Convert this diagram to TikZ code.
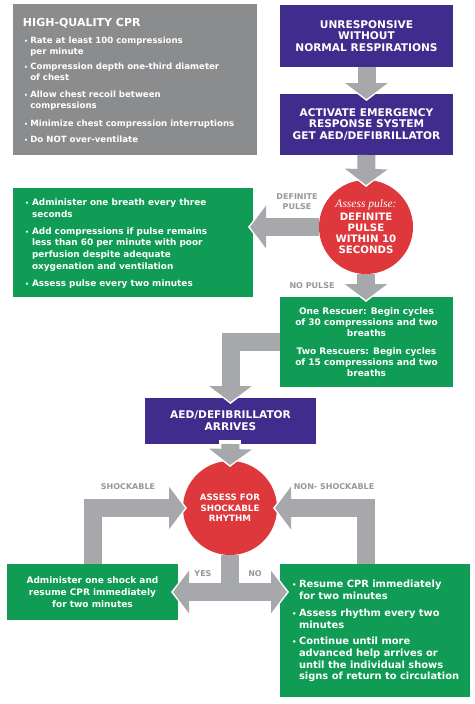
\documentclass[tikz,border=0pt]{standalone}
\usepackage{fontspec}
\setmainfont{DejaVu Sans}
\newfontfamily\serifit{Liberation Serif}
\usetikzlibrary{arrows.meta,calc}
\definecolor{boxgray}{RGB}{139,140,142}
\definecolor{arrgray}{RGB}{166,168,171}
\definecolor{labgray}{RGB}{150,152,155}
\definecolor{cprpurple}{RGB}{64,44,140}
\definecolor{cprgreen}{RGB}{16,156,84}
\definecolor{cprred}{RGB}{222,56,60}
\newcommand\bul{\makebox[7pt][l]{\scalebox{0.7}{•}}}
\newcommand\ind{\hspace*{7pt}}
\newcommand\bulg{\makebox[6.3pt][l]{\scalebox{0.7}{•}}}
\newcommand\indg{\hspace*{6.3pt}}
\newcommand\assessfont{\serifit\itshape\fontsize{11.5}{12}\selectfont}
\newcommand\circfont{\fontspec{DejaVu Sans Bold}\fontsize{10.2}{11}\selectfont}
\begin{document}
\begin{tikzpicture}[x=1pt,y=-1pt,
  every node/.style={inner sep=0pt, outer sep=0pt},
  rbox/.style={rectangle, draw=none},
  graybox/.style={rbox, fill=boxgray},
  purplebox/.style={rbox, fill=cprpurple, text=white, align=center,
    font=\bfseries\fontsize{10.6}{11.8}\selectfont},
  greenbox/.style={rbox, fill=cprgreen},
  redcircle/.style={circle, fill=cprred, minimum size=94pt, text=white, align=center},
  wtext/.style={text=white, align=left},
  ctext/.style={text=white, align=center},
  lbl/.style={text=labgray, align=center, font=\bfseries\fontsize{8}{10}\selectfont},
  fat/.style={draw=arrgray, line width=18pt, line join=miter},
  halo/.style={draw=white, line width=22pt, -{Triangle[width=48pt,length=19pt]}},
  >={Triangle[width=42pt,length=16pt]}
]
\useasboundingbox (0,0) rectangle (474,704);
\fill[white] (0,0) rectangle (474,704);

% ---------- boxes ----------
\node[graybox, minimum width=244pt, minimum height=151pt] (g0) at (135,79.5) {};
\node[wtext, anchor=north west, font=\bfseries\fontsize{11}{12}\selectfont] (g0h) at (23,18.5) {HIGH-QUALITY CPR};
\node[wtext, anchor=north west, font=\bfseries\fontsize{8.6}{11}\selectfont] (g0l) at (24,36.5) {%
\bulg Rate at least 100 compressions\\
\indg per minute\\[4.7pt]
\bulg Compression depth one-third diameter\\
\indg of chest\\[5.3pt]
\bulg Allow chest recoil between\\
\indg compressions\\[7pt]
\bulg Minimize chest compression interruptions\\[5pt]
\bulg Do NOT over-ventilate};

\node[purplebox, minimum width=173pt, minimum height=62pt] (p1) at (366.5,36)
  {UNRESPONSIVE\\WITHOUT\\NORMAL RESPIRATIONS};
\node[purplebox, minimum width=173pt, minimum height=61pt] (p2) at (366.5,124.5)
  {ACTIVATE EMERGENCY\\RESPONSE SYSTEM\\GET AED/DEFIBRILLATOR};

\node[redcircle, font=\circfont] (c1) at (366,227)
  {\assessfont Assess pulse:\\[2pt]
   \circfont DEFINITE\\PULSE\\WITHIN 10\\SECONDS};

\node[greenbox, minimum width=240pt, minimum height=109pt] (g1) at (133,242.5) {};
\node[wtext, anchor=north west, font=\bfseries\fontsize{8.9}{11.7}\selectfont] (g1t) at (25,199) {%
\bul Administer one breath every three\\
\ind seconds\\[5pt]
\bul Add compressions if pulse remains\\
\ind less than 60 per minute with poor\\
\ind perfusion despite adequate\\
\ind oxygenation and ventilation\\[5.5pt]
\bul Assess pulse every two minutes};

\node[greenbox, minimum width=173pt, minimum height=90pt, ctext,
  font=\bfseries\fontsize{9}{11}\selectfont] (g2) at (366.5,342)
  {One Rescuer: Begin cycles\\of 30 compressions and two\\breaths\\[7pt]
   Two Rescuers: Begin cycles\\of 15 compressions and two\\breaths};

\node[purplebox, minimum width=171pt, minimum height=46pt] (aed) at (230.5,421)
  {AED/DEFIBRILLATOR\\ARRIVES};

\node[redcircle, font=\bfseries\fontsize{8.7}{10.5}\selectfont] (c2) at (230,508)
  {ASSESS FOR\\SHOCKABLE\\RHYTHM};

\node[greenbox, minimum width=171pt, minimum height=56pt, ctext,
  font=\bfseries\fontsize{9}{11.7}\selectfont] (g3) at (92.5,592)
  {Administer one shock and\\resume CPR immediately\\for two minutes};

\node[greenbox, minimum width=190pt, minimum height=133pt] (g4) at (375,630.5) {};
\node[wtext, anchor=north west, font=\bfseries\fontsize{9.9}{11.7}\selectfont] (g4t) at (292,580) {%
\bul Resume CPR immediately\\
\ind for two minutes\\[5.5pt]
\bul Assess rhythm every two\\
\ind minutes\\[5pt]
\bul Continue until more\\
\ind advanced help arrives or\\
\ind until the individual shows\\
\ind signs of return to circulation};

% ---------- arrow tip points ----------
\coordinate (t1) at ([yshift=-5pt]p2.north);
\coordinate (t2) at ([yshift=-5pt]c1.north);
\coordinate (t3) at ([xshift=-3pt]g1.east |- c1.west);
\coordinate (t4) at ([yshift=-3pt]g2.north -| c1.south);
\coordinate (t5) at ([yshift=-4pt]aed.north);
\coordinate (t6) at ([yshift=-4pt]c2.north);
\coordinate (t7) at ([xshift=2pt]c2.west);
\coordinate (t8) at ([xshift=-2pt]c2.east);
\coordinate (tj) at (c2.south |- g3.east);
\coordinate (tl) at ([xshift=-5pt]g3.east);
\coordinate (tr) at ([xshift=7pt]g4.west |- g3.east);

% ---------- white halos (notches) ----------
\draw[halo] ([yshift=25pt]t1) -- ([yshift=-2pt]t1);
\draw[halo] ([yshift=25pt]t2) -- ([yshift=-2pt]t2);
\draw[halo] ([xshift=25pt]t3) -- ([xshift=-2pt]t3);
\draw[halo] ([yshift=25pt]t4) -- ([yshift=-2pt]t4);
\draw[halo] ([yshift=25pt]t5) -- ([yshift=-2pt]t5);
\draw[halo] ([yshift=25pt]t6) -- ([yshift=-2pt]t6);
\draw[halo] ([xshift=-25pt]t7) -- ([xshift=2pt]t7);
\draw[halo] ([xshift=25pt]t8) -- ([xshift=-2pt]t8);
\draw[halo] ([xshift=25pt]tl) -- ([xshift=-2pt]tl);
\draw[halo] ([xshift=-25pt]tr) -- ([xshift=2pt]tr);

% ---------- arrows ----------
\draw[fat,->] (p1.south) -- (t1);
\draw[fat,->] (p2.south) -- (t2);
\draw[fat,->] (c1.west) -- (t3);
\draw[fat,->] (c1.south) -- (t4);
\draw[fat,->] (g2.west) -| (t5);
\draw[fat,->] (aed.south) -- (t6);
\draw[fat,->] (g3.north) |- (t7);
\draw[fat,->] ([xshift=-9.5pt]g4.north) |- (t8);
\draw[fat] (c2.south) -- (tj);
\draw[fat,<->] (tl) -- (tr);

% ---------- labels ----------
\node[lbl] (ldp) at (297,202) {DEFINITE\\PULSE};
\node[lbl] (lnp) at (312,286) {NO PULSE};
\node[lbl] (lsh) at (128,487) {SHOCKABLE};
\node[lbl] (lns) at (334,487) {NON- SHOCKABLE};
\node[lbl] (lyes) at (203,574) {YES};
\node[lbl] (lno) at (255,574) {NO};
\end{tikzpicture}
\end{document}
